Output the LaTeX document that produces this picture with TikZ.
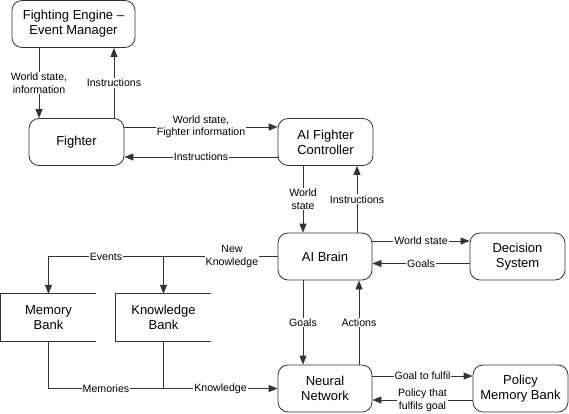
\documentclass[tikz,border=0pt]{standalone}
\usepackage{fontspec}
\setmainfont{Liberation Sans}
\usepackage{tikz}
\usetikzlibrary{positioning}
\usetikzlibrary{arrows.meta,calc}
\tikzstyle{block}=[draw=black!80,line width=0.8pt,rounded corners=10pt,minimum height=47pt,inner sep=0pt,align=center,font=\fontsize{13}{15}\selectfont]
\tikzstyle{store}=[minimum width=95pt,minimum height=47pt,inner sep=0pt,align=center,font=\fontsize{13}{15}\selectfont]
\tikzstyle{storeline}=[draw=black!80,line width=0.8pt]
\tikzstyle{edge} = [draw=black!80,line width=0.8pt,-{Triangle[length=9pt,width=7pt]}]
\tikzstyle{undirectededge} = [draw=black!80,line width=0.8pt]
\tikzstyle{weight} = [fill=white,inner sep=1pt,align=center,font=\fontsize{10.6}{12.5}\selectfont]

\begin{document}
\begin{tikzpicture}[x=1pt,y=-1pt]
    \useasboundingbox (0,0) rectangle (569,413);
    % First we draw the boxes
    \foreach \pos/\name/\boxw/\label in {{(73.5,24)/engine/123/Fighting Engine --\\Event Manager},
    {(76.5,142)/fighter/95/Fighter}, {(325.5,142)/aifc/95/AI Fighter\\Controller},
    {(325,256.5)/brain/94/AI Brain}, {(517.5,256.5)/decision/95/Decision\\System},
    {(325,388.5)/nn/94/Neural\\Network}, {(520.5,388.5)/policy/95/Policy\\Memory Bank}}
        \node[block,minimum width=\boxw pt] (\name) at \pos {\label};

    % data stores, open on the right
    \node[store] (memory) at (48.5,317.5) {Memory\\Bank};
    \node[store] (knowledge) at (163.5,317.5) {Knowledge\\Bank};
    \foreach \name in {memory, knowledge}
        \path[storeline] (\name.north east) -- (\name.north west) -- (\name.south west) -- (\name.south east);

    % Connect boxes with edges and draw labels
    \path[edge] ([xshift=-34.5pt]engine.south) -- node[weight] {World state,\\information} ([xshift=-37.5pt]fighter.north);
    \path[edge] ([xshift=37.5pt]fighter.north) -- node[weight] {Instructions} ([xshift=40.5pt]engine.south);
    \path[edge] ([yshift=15pt]fighter.east) -- node[weight] {World state,\\Fighter information} ([yshift=15pt]aifc.west);
    \path[edge] ([yshift=-15pt]aifc.west) -- node[weight] {Instructions} ([yshift=-15pt]fighter.east);
    \path[edge] ([xshift=-22.5pt]aifc.south) -- node[weight] {World\\state} ([xshift=-22pt]brain.north);
    \path[edge] ([xshift=32pt]brain.north) -- node[weight] {Instructions} ([xshift=31.5pt]aifc.south);
    \path[edge] ([yshift=15.5pt]brain.east) -- node[weight] {World state} ([yshift=15.5pt]decision.west);
    \path[edge] ([yshift=-7pt]decision.west) -- node[weight] {Goals} ([yshift=-7pt]brain.east);
    \path[edge] ([xshift=-22pt]brain.south) -- node[weight] {Goals} ([xshift=-22pt]nn.north);
    \path[edge] ([xshift=34pt]nn.north) -- node[weight] {Actions} ([xshift=34pt]brain.south);
    \path[edge] ([yshift=12.5pt]nn.east) -- node[weight] {Goal to fulfil} ([yshift=12.5pt]policy.west);
    \path[edge] ([yshift=-11.5pt]policy.west) -- node[weight] {Policy that\\fulfils goal} ([yshift=-11.5pt]nn.east);

    % knowledge going out to the banks
    \coordinate (split) at (knowledge.north |- brain.west);
    \path[edge] (brain.west) -- node[weight,pos=0.4] {New\\Knowledge} (split) -- node[weight] {Events} (memory.north |- split) -- (memory.north);
    \path[edge] (split) -- (knowledge.north);

    % and coming back to the network
    \coordinate (join) at (knowledge.south |- nn.west);
    \path[edge] (memory.south) |- node[weight,pos=0.75] {Memories} (join) -- node[weight] {Knowledge} (nn.west);
    \path[undirectededge] (knowledge.south) -- (join);
\end{tikzpicture}
\end{document}
